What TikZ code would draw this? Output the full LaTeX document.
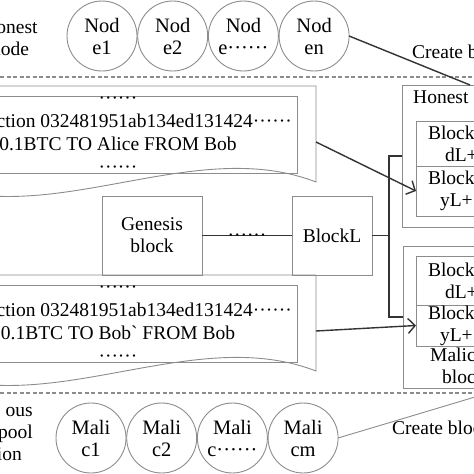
\documentclass[tikz,border=0pt]{standalone}
\usepackage{fontspec}
\setmainfont{Liberation Serif}
\usetikzlibrary{arrows.meta, positioning}
\definecolor{boxgray}{gray}{0.55}
\definecolor{linkdark}{gray}{0.2}
\tikzset{
    every node/.style={font=\fontsize{19.5}{22}\selectfont},
    box/.style={rectangle, draw=boxgray, line width=0.9pt, align=center, inner sep=0pt, outer sep=0pt},
    block/.style={box, text width=118pt, align=left, inner xsep=12pt, anchor=north west},
    peer/.style={circle, draw=boxgray, line width=0.9pt, align=center, minimum size=70pt, inner sep=0pt, outer sep=0pt,
        font=\fontsize{20.5}{22}\selectfont},
    link/.style={draw=linkdark, line width=1.4pt},
    tx/.style={link, -{Straight Barb[length=7pt, width=15pt]}},
    zone/.style={draw=boxgray, line width=1.2pt, dash pattern=on 4pt off 2.5pt},
}

\begin{document}
\begin{tikzpicture}[x=1pt, y=-1pt]
    \useasboundingbox (0,0) rectangle (474,474);
    \clip (0,0) rectangle (474,474);

    % honest nodes
    \node [align=center, inner sep=0pt] (hlabel) at (10,38) {Honest\\node};
    \node [peer] (n1) at (102,36) {Nod\\e1};
    \node [peer, right=0.7pt of n1] (n2) {Nod\\e2};
    \node [peer, right=0.7pt of n2] (n3) {Nod\\e······};
    \node [peer, right=0.7pt of n3] (n4) {Nod\\en};
    \node [anchor=west, inner sep=0pt] (create1) at (412,52) {Create block};

    \draw [zone] (0,77) -- (474,77);
    \draw [zone] (0,393) -- (474,393);

    % transactions
    \foreach \dy in {0,189} {
        \draw [draw=boxgray, line width=0.9pt] (-20,86+\dy) -- (316,86+\dy) -- (316,182+\dy)
            .. controls (210,141+\dy) and (90,207+\dy) .. (-20,195+\dy);
    }
    \node [box, minimum width=358pt, minimum height=76pt, font=\fontsize{19.5}{23}\selectfont] (tx1) at (118,135)
        {······\\Transaction 032481951ab134ed131424······\\0.1BTC TO Alice FROM Bob\\······};
    \node [box, minimum width=358pt, minimum height=76pt, font=\fontsize{19.5}{23}\selectfont] (tx2) at (118,324)
        {······\\Transaction 032481951ab134ed131424······\\0.1BTC TO Bob\textasciigrave{} FROM Bob\\······};
    \coordinate (tx1out) at (316,142);
    \coordinate (tx2out) at (316,331);

    % chain
    \node [box, minimum width=100pt, minimum height=79pt] (gen) at (152,235.5) {Genesis\\block};
    \node [box, minimum width=80pt, minimum height=79pt, right=90pt of gen] (bl) {BlockL};
    \draw [link] (gen) -- node [inner sep=0pt, yshift=-2pt] {······} (bl);

    % honest branch
    \node [box, minimum width=140pt, minimum height=142pt] (hon) at (472,156) {};
    \node [anchor=west, inner sep=0pt] (honlbl) at (413,97) {Honest};
    \node [block, minimum height=45pt] (hb1) at (416,121) {Block\\\hspace*{17pt}dL+};
    \node [block, minimum height=50pt, below=0pt of hb1] (hb2) {Block\\\hspace*{12pt}yL+};

    % malicious branch
    \node [box, minimum width=140pt, minimum height=142pt] (mal) at (473,317) {};
    \node [block, minimum height=49pt] (mb1) at (416,256) {Block\\\hspace*{17pt}dL+};
    \node [block, minimum height=41pt, below=0pt of mb1] (mb2) {Block\\\hspace*{12pt}yL+};
    \node [anchor=west, align=left, inner sep=0pt] (mallbl) at (430,366) {Malicious\\\hspace*{12pt}block};

    \draw [link] (bl.east) -- ++(17,0) |- (hon.west);
    \draw [link] (bl.east) -- ++(17,0) |- (mal.west);
    \draw [tx] (tx1out) -- (hb2.west);
    \draw [tx] (tx2out) -- (mb2.west);

    % malicious nodes
    \node [align=right, anchor=east, inner sep=0pt] (mlabel) at (33,434) {ous\\pool\\ion\kern11pt};
    \node [peer] (m1) at (91,438) {Mali\\c1};
    \node [peer, right=0.7pt of m1] (m2) {Mali\\c2};
    \node [peer, right=0.7pt of m2] (m3) {Mali\\c······};
    \node [peer, right=0.7pt of m3] (m4) {Mali\\cm};
    \node [anchor=west, inner sep=0pt] (create2) at (392,428) {Create block};

    \coordinate (honin) at (470,85);
    \coordinate (malin) at (505,388);
    \draw [link] (n4.east) -- (honin);
    \draw [draw=boxgray, line width=0.9pt] (m4.east) -- (malin);
\end{tikzpicture}
\end{document}
